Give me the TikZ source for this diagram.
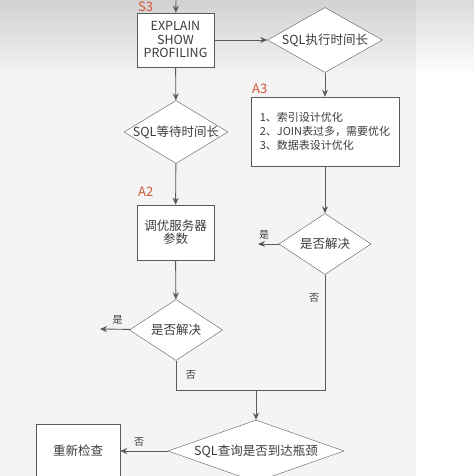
\documentclass[tikz,border=0pt]{standalone}
\usepackage{fontspec}
\newfontfamily\cjk{Noto Sans CJK SC}
\usetikzlibrary{shapes.geometric,arrows.meta,fadings}
\definecolor{linegray}{HTML}{5A5A5A}
\definecolor{textgray}{HTML}{3C3C3C}
\definecolor{tagred}{HTML}{D4563A}
\definecolor{bggray}{HTML}{F4F4F4}
\tikzfading[name=fadedown, top color=transparent!0, bottom color=transparent!100]

\begin{document}
\begin{tikzpicture}[x=1pt,y=-1pt,font=\cjk\fontsize{12.5}{13.5}\selectfont,text=textgray,
box/.style={draw=linegray, fill=white, align=center, inner sep=0pt},
decision/.style={diamond, draw=linegray, fill=white, inner sep=-3pt},
tag/.style={text=tagred, font=\cjk\fontsize{13}{13}\selectfont, anchor=base west, inner sep=0pt},
note/.style={font=\cjk\fontsize{10}{10}\selectfont},
flow/.style={draw=linegray, line width=0.9pt, -{Stealth[length=7pt,width=6pt]}},
plain/.style={draw=linegray, line width=0.9pt}]
\useasboundingbox (0,0) rectangle (474,476);
\clip (0,0) rectangle (474,476);
\fill[white] (0,0) rectangle (474,476);
\fill[bggray] (0,0) rectangle (416,476);
\fill[black, opacity=0.14, path fading=fadedown] (0,0) rectangle (474,75);

\node[box, minimum width=77pt, minimum height=54pt] (profile) at (175.5,40) {EXPLAIN\\SHOW\\PROFILING};
\node[decision, minimum width=115pt, minimum height=65pt, aspect=1.77] (exectime) at (325,40) {SQL执行时间长};
\node[box, minimum width=148pt, minimum height=69pt, align=left,
  font=\cjk\fontsize{11}{14}\selectfont] (sqlopt) at (325,131.5) {1、索引设计优化\\2、JOIN表过多，需要优化\\3、数据表设计优化};
\node[decision, minimum width=92pt, minimum height=61pt, aspect=1.5] (solvedright) at (325,244) {是否解决};
\node[decision, minimum width=104pt, minimum height=63pt, aspect=1.65] (waittime) at (176,132) {SQL等待时间长};
\node[box, minimum width=77pt, minimum height=55pt] (tuning) at (175.5,232.5) {调优服务器\\参数};
\node[decision, minimum width=93pt, minimum height=61pt, aspect=1.52] (solvedleft) at (176,330) {是否解决};
\node[decision, minimum width=176pt, minimum height=62pt, aspect=2.84] (bottleneck) at (256,451) {SQL查询是否到达瓶颈};
\node[box, minimum width=84pt, minimum height=54pt] (recheck) at (78,451) {重新检查};

\node[tag] (s3tag) at (138,12) {S3};
\node[tag] (a3tag) at (252,94) {A3};
\node[tag] (a2tag) at (138,196) {A2};

\coordinate (entry) at (176,0);
\coordinate (rightyes) at (258,244);
\coordinate (leftyes) at (100,329);
\coordinate (merge) at (256,390);

\draw[flow] (entry) -- (profile);
\draw[flow] (profile) -- (exectime);
\draw[flow] (exectime) -- (sqlopt);
\draw[flow] (sqlopt) -- (solvedright);
\draw[flow] (solvedright) -- (rightyes) node[note, pos=0.7, above=1pt] {是};
\draw[plain] (solvedright) |- (merge) node[note, pos=0.1, left=2pt] {否};
\draw[flow] (merge) -- (bottleneck);
\draw[flow] (profile) -- (waittime);
\draw[flow] (waittime) -- (tuning);
\draw[flow] (tuning) -- (solvedleft);
\draw[flow] (solvedleft) -- (leftyes) node[note, pos=0.42, above=1pt] {是};
\draw[plain] (solvedleft) |- (merge) node[note, pos=0.25, right=6pt] {否};
\draw[flow] (bottleneck) -- (recheck) node[note, pos=0.6, above=1pt] {否};
\end{tikzpicture}
\end{document}
